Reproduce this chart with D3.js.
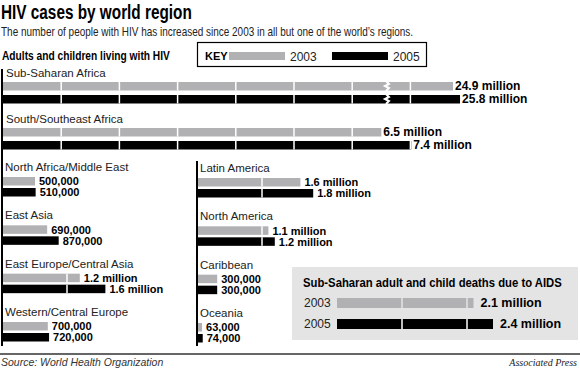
<!DOCTYPE html>
<html>
<head>
<meta charset="utf-8">
<script src="https://cdn.jsdelivr.net/npm/d3@7"></script>
<style>
  body { margin: 0; background: #fff; }
  text { font-family: "Liberation Sans Narrow", "Arial Narrow", "Liberation Sans", sans-serif; }
</style>
</head>
<body>
<div class="chart"></div>
<script>
// data (millions of people)
var years = ["2003", "2005"];
var topRegions = ["Sub-Saharan Africa", "South/Southeast Africa"];
var top2003 = [24.9, 6.5];
var top2005 = [25.8, 7.4];
var leftRegions = ["North Africa/Middle East", "East Asia", "East Europe/Central Asia", "Western/Central Europe"];
var left2003 = [0.5, 0.69, 1.2, 0.7];
var left2005 = [0.51, 0.87, 1.6, 0.72];
var midRegions = ["Latin America", "North America", "Caribbean", "Oceania"];
var mid2003 = [1.6, 1.1, 0.3, 0.063];
var mid2005 = [1.8, 1.2, 0.3, 0.074];
var deaths = [2.1, 2.4];

var grey = "#b1b1b3", black = "#000";
var colors = [grey, black];

var svg = d3.select(".chart")
    .append("svg")
    .attr("width", 580)
    .attr("height", 370);

function fmt(v) {
  if (v >= 1) return d3.format(".1f")(v) + " million";
  return d3.format(",")(Math.round(v * 1e6));
}

// squeeze a text horizontally to a given width (condensed headline type)
function fitText(x, y, str, width, size) {
  var t = svg.append("text").attr("x", 0).attr("y", 0).text(str)
      .style("font-size", size).style("font-weight", "bold");
  var w = t.node().getComputedTextLength();
  t.attr("transform", "translate(" + x + "," + y + ") scale(" + (width / w) + ",1)");
  return t;
}

// titles
fitText(1, 19, "HIV cases by world region", 191, "21px");
fitText(1, 36, "The number of people with HIV has increased since 2003 in all but one of the world\u2019s regions.", 442, "13px")
    .style("font-weight", "normal").style("fill", "#222");
fitText(2, 60, "Adults and children living with HIV", 168, "12.5px");

// key
svg.append("rect").attr("x", 197.5).attr("y", 42.5).attr("width", 229).attr("height", 24)
    .attr("fill", "none").attr("stroke", "#000").attr("stroke-width", 1.2);
svg.append("text").attr("x", 205).attr("y", 60).text("KEY")
    .style("font-size", "11px").style("font-weight", "bold");
var keyX = d3.scaleOrdinal().domain(years).range([229, 332]);
years.forEach(function(y, i) {
  svg.append("rect").attr("x", keyX(y)).attr("y", 52).attr("width", 56).attr("height", 8).attr("fill", colors[i]);
  svg.append("text").attr("x", keyX(y) + 61).attr("y", 61).text(y)
      .style("font-size", "12px").style("fill", "#222");
});

// axis lines
svg.append("line").attr("x1", 2).attr("x2", 2).attr("y1", 69).attr("y2", 346).attr("stroke", "#000").attr("stroke-width", 2);
svg.append("line").attr("x1", 197).attr("x2", 197).attr("y1", 161).attr("y2", 346).attr("stroke", "#000").attr("stroke-width", 2);
svg.append("line").attr("x1", 0).attr("x2", 580).attr("y1", 354).attr("y2", 354).attr("stroke", "#333").attr("stroke-width", 1.5);

// draw a pair of bars with white million dividers
function pairBars(g, x, vals, base, opts) {
  vals.forEach(function(v, i) {
    var y = base + opts.off[i];
    g.append("rect").attr("x", x(0)).attr("y", y).attr("width", x(v) - x(0)).attr("height", opts.h)
        .attr("fill", colors[i]);
    d3.range(1, Math.ceil(v))
      .filter(function(t) { return t <= (opts.maxTick || 99); })
      .forEach(function(t) {
        g.append("line").attr("x1", x(t)).attr("x2", x(t)).attr("y1", y).attr("y2", y + opts.h)
            .attr("stroke", "#fff").attr("stroke-width", 1.5);
      });
    g.append("text").attr("x", x(v) + opts.gap).attr("y", y + opts.h / 2 + 4)
        .text(fmt(v))
        .style("font-size", opts.fs).style("font-weight", "bold")
        .style("font-family", opts.font || null);
  });
}

// top regions: broken scale for Sub-Saharan Africa
var xTop = d3.scaleLinear().domain([0, 7, 24, 26]).range([3, 410.4, 446, 461.6]);
var yTop = d3.scaleLinear().domain([0, 1]).range([77, 123]);
topRegions.forEach(function(r, i) {
  svg.append("text").attr("x", 6).attr("y", yTop(i)).text(r).style("font-size", "11.5px").style("fill", "#222");
  pairBars(svg, xTop, [top2003[i], top2005[i]], yTop(i), {off: [5, 18], h: 8.5, gap: 2, fs: "12px", maxTick: 7});
});
// break mark
[5, 18].forEach(function(off) {
  var y0 = yTop(0) + off;
  var bx = xTop(6.58);
  svg.append("path")
      .attr("d", "M" + bx + "," + (y0 - 1) + " l3,3 l-4,2 l4,2 l-3,3")
      .attr("fill", "none").attr("stroke", "#fff").attr("stroke-width", 2);
});

// lower panels
var yLow = d3.scaleLinear().domain([0, 3]).range([171, 316]);
var xLeft = d3.scaleLinear().domain([0, 2]).range([3, 131]);
var xMid = d3.scaleLinear().domain([0, 2]).range([198, 326]);
var lowFont = "'Liberation Sans', Arial, sans-serif";

leftRegions.forEach(function(r, i) {
  svg.append("text").attr("x", 5).attr("y", yLow(i)).text(r).style("font-size", "11.5px").style("fill", "#222");
  pairBars(svg, xLeft, [left2003[i], left2005[i]], yLow(i), {off: [6, 17], h: 8.5, gap: 4, fs: "11px", font: lowFont});
});
midRegions.forEach(function(r, i) {
  svg.append("text").attr("x", 200).attr("y", yLow(i) + 1).text(r).style("font-size", "11.5px").style("fill", "#222");
  pairBars(svg, xMid, [mid2003[i], mid2005[i]], yLow(i) + 1, {off: [6, 17], h: 8.5, gap: 4, fs: "11px", font: lowFont});
});

// deaths box
svg.append("rect").attr("x", 292).attr("y", 267).attr("width", 286).attr("height", 73).attr("fill", "#e4e4e4");
fitText(303, 287, "Sub-Saharan adult and child deaths due to AIDS", 259, "12.5px");
var xDeath = d3.scaleLinear().domain([0, 2]).range([337, 467]);
var yDeath = d3.scaleOrdinal().domain(years).range([298, 319]);
years.forEach(function(y, i) {
  svg.append("text").attr("x", 304).attr("y", yDeath(y) + 9).text(y).style("font-size", "12px").style("fill", "#222");
  svg.append("rect").attr("x", xDeath(0)).attr("y", yDeath(y)).attr("width", xDeath(deaths[i]) - xDeath(0)).attr("height", 10)
      .attr("fill", colors[i]);
  d3.range(1, Math.ceil(deaths[i])).forEach(function(t) {
    svg.append("line").attr("x1", xDeath(t)).attr("x2", xDeath(t)).attr("y1", yDeath(y)).attr("y2", yDeath(y) + 10)
        .attr("stroke", i == 0 ? "#e4e4e4" : "#fff").attr("stroke-width", 1.5);
  });
  svg.append("text").attr("x", xDeath(deaths[i]) + 7).attr("y", yDeath(y) + 9).text(fmt(deaths[i]))
      .style("font-size", "12.5px").style("font-weight", "bold");
});

// footer
svg.append("text").attr("x", 1).attr("y", 366).text("Source: World Health Organization")
    .style("font-size", "10.5px").style("font-style", "italic").style("fill", "#333");
svg.append("text").attr("x", 577).attr("y", 366).attr("text-anchor", "end").text("Associated Press")
    .style("font-size", "10px").style("font-style", "italic").style("fill", "#222")
    .style("font-family", "'Liberation Serif', serif");
</script>
</body>
</html>
